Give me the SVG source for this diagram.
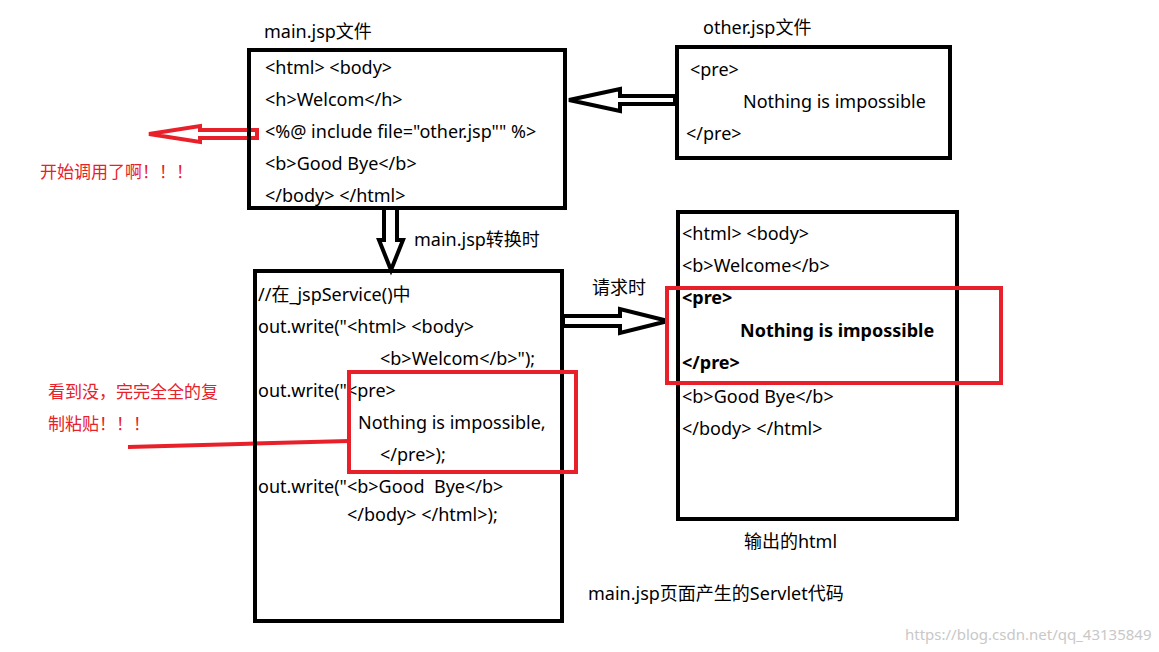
<svg xmlns="http://www.w3.org/2000/svg" width="1159" height="652" viewBox="0 0 1159 652">
<style>
text{font-family:"Noto Sans","Noto Sans CJK SC",sans-serif;font-size:18px;fill:#000}
.box{fill:none;stroke:#000;stroke-width:4}
.red{fill:none;stroke:#e8202a;stroke-width:4}
.arr{fill:#fff;stroke:#000;stroke-width:4;stroke-linejoin:miter}
.rt{fill:#e8202a;font-size:17px}
.b{font-weight:bold}
</style>
<rect width="1159" height="652" fill="#fff"/>
<g id="connectors">
<path class="arr" d="M675,96 L620,96 L620,89 L569,100 L620,111 L620,104 L675,104 Z"/>
<path class="arr" d="M384,208 L384,240 L379,240 L391,270 L403,240 L397,240 L397,208 Z"/>
<path class="arr" d="M563,316 L620,316 L620,309 L668,321 L620,333 L620,326 L563,326 Z"/>
<path class="arr" style="stroke:#e8202a" d="M257,130 L200,130 L200,126 L149,134 L200,142 L200,138 L257,138 Z"/>
<path class="red" d="M128,447 L240,444 L349,441"/>
</g>
<g id="main">
<text x="264" y="38">main.jsp文件</text>
<rect class="box" x="249" y="50" width="316" height="158"/>
<text x="265" y="74" xml:space="preserve">&lt;html&gt; &lt;body&gt;</text>
<text x="265" y="106">&lt;h&gt;Welcom&lt;/h&gt;</text>
<text x="265" y="138">&lt;%@ include file="other.jsp"" %&gt;</text>
<text x="265" y="170">&lt;b&gt;Good Bye&lt;/b&gt;</text>
<text x="265" y="202" xml:space="preserve">&lt;/body&gt; &lt;/html&gt;</text>
</g>
<g id="other">
<text x="703" y="34">other.jsp文件</text>
<rect class="box" x="677" y="47" width="273" height="111"/>
<text x="690" y="76">&lt;pre&gt;</text>
<text x="743" y="108">Nothing is impossible</text>
<text x="686" y="140">&lt;/pre&gt;</text>
</g>
<g id="label-convert"><text x="414" y="246">main.jsp转换时</text></g>
<g id="servlet">
<rect class="box" x="255" y="271" width="307" height="350"/>
<text x="258" y="301">//在_jspService()中</text>
<text x="258" y="333" xml:space="preserve">out.write("&lt;html&gt; &lt;body&gt;</text>
<text x="380" y="365">&lt;b&gt;Welcom&lt;/b&gt;");</text>
<text x="258" y="397">out.write("&lt;pre&gt;</text>
<text x="358" y="429">Nothing is impossible,</text>
<text x="380" y="461">&lt;/pre&gt;);</text>
<text x="258" y="493" xml:space="preserve">out.write("&lt;b&gt;Good  Bye&lt;/b&gt;</text>
<text x="347" y="521" xml:space="preserve">&lt;/body&gt; &lt;/html&gt;);</text>
<rect class="red" x="349" y="372" width="227" height="100"/>
</g>
<g id="label-request"><text x="592" y="294">请求时</text></g>
<g id="output">
<rect class="box" x="678" y="212" width="279" height="307"/>
<text x="682" y="240" xml:space="preserve">&lt;html&gt; &lt;body&gt;</text>
<text x="682" y="272">&lt;b&gt;Welcome&lt;/b&gt;</text>
<text class="b" x="682" y="304">&lt;pre&gt;</text>
<text class="b" x="740" y="337">Nothing is impossible</text>
<text class="b" x="682" y="369">&lt;/pre&gt;</text>
<text x="682" y="403">&lt;b&gt;Good Bye&lt;/b&gt;</text>
<text x="682" y="435" xml:space="preserve">&lt;/body&gt; &lt;/html&gt;</text>
<rect class="red" x="667" y="288" width="334" height="95"/>
<text x="744" y="548">输出的html</text>
</g>
<g id="label-servlet"><text x="588" y="600">main.jsp页面产生的Servlet代码</text></g>
<g id="note1"><text class="rt" x="40" y="178">开始调用了啊！！！</text></g>
<g id="note2">
<text class="rt" x="48" y="398">看到没，完完全全的复</text>
<text class="rt" x="48" y="430">制粘贴！！！</text>
</g>
<text x="905" y="640" style="fill:#c8c8c8;font-size:15px">https://blog.csdn.net/qq_43135849</text>
</svg>
